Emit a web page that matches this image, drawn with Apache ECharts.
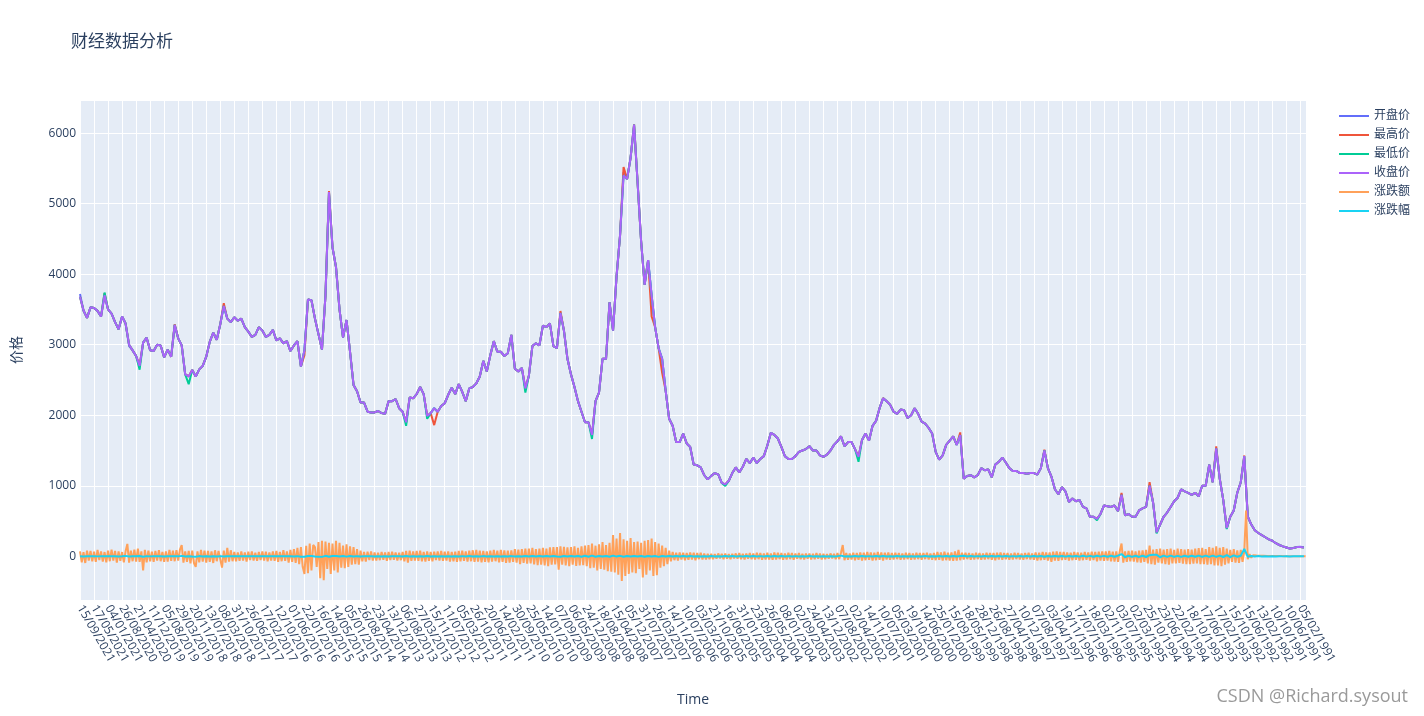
<!DOCTYPE html>
<html><head><meta charset="utf-8">
<script src="https://cdn.jsdelivr.net/npm/echarts@6/dist/echarts.min.js"></script>
<style>html,body{margin:0;padding:0;background:#fff}#c{width:1424px;height:716px}</style>
</head><body><div id="c"></div>
<script>
const tickLabels = ["15/09/2021","17/05/2021","04/01/2021","26/08/2020","21/04/2020","11/12/2019","05/08/2019","29/03/2019","20/11/2018","13/07/2018",
"08/03/2018","31/10/2017","26/06/2017","17/02/2017","12/10/2016","01/06/2016","22/01/2016","16/09/2015","14/05/2015","05/01/2015",
"26/08/2014","23/04/2014","13/12/2013","06/08/2013","27/03/2013","15/11/2012","11/07/2012","05/03/2012","26/10/2011","20/06/2011",
"14/02/2011","30/09/2010","25/05/2010","14/01/2010","07/09/2009","06/05/2009","24/12/2008","18/08/2008","15/04/2008","05/12/2007",
"31/07/2007","26/03/2007","14/11/2006","10/07/2006","03/03/2006","21/10/2005","16/06/2005","31/01/2005","23/09/2004","26/05/2004",
"08/01/2004","02/09/2003","24/04/2003","13/12/2002","07/08/2002","02/04/2002","14/11/2001","10/07/2001","05/03/2001","19/10/2000",
"14/06/2000","25/01/2000","15/09/1999","18/05/1999","28/12/1998","26/08/1998","27/04/1998","10/12/1997","07/08/1997","03/04/1997",
"19/11/1996","17/07/1996","18/03/1996","02/11/1995","03/07/1995","02/03/1995","25/10/1994","23/06/1994","22/02/1994","18/10/1993",
"17/06/1993","17/02/1993","15/10/1992","15/06/1992","13/02/1992","10/10/1991","10/06/1991","05/02/1991"];
const pricePointsPerTick = 4;
const amountPointsPerTick = 8;

const openPrice = [
3720,3485,3380,3530,3520,3480,3400,3690,3500,3440,
3320,3220,3400,3300,2980,2920,2840,2700,3030,3100,
2920,2910,3000,2990,2820,2930,2830,3280,3090,2990,
2580,2550,2640,2550,2650,2700,2830,3040,3170,3070,
3290,3550,3370,3320,3390,3340,3370,3250,3185,3110,
3140,3250,3200,3110,3140,3210,3060,3090,3020,3050,
2910,2990,3050,2690,2920,3640,3630,3370,3150,2930,
3700,5140,4380,4100,3500,3100,3350,2900,2430,2340,
2180,2180,2050,2040,2040,2060,2030,2020,2200,2200,
2230,2100,2050,1900,2250,2240,2300,2400,2300,1990,
2030,2100,2050,2130,2170,2290,2390,2300,2440,2330,
2200,2380,2400,2450,2550,2770,2620,2850,3050,2900,
2900,2840,2880,3140,2660,2620,2670,2380,2560,2980,
3020,2990,3270,3250,3300,2980,2950,3450,3200,2800,
2580,2400,2200,2050,1900,1900,1720,2200,2320,2800,
2800,3600,3200,3970,4550,5450,5350,5650,6100,5300,
4470,3850,4200,3700,3250,2950,2800,2350,1950,1850,
1620,1620,1740,1600,1550,1300,1290,1260,1150,1090,
1140,1180,1160,1040,1020,1070,1180,1260,1190,1270,
1380,1320,1400,1320,1380,1420,1570,1750,1720,1670,
1550,1420,1380,1380,1420,1480,1500,1520,1560,1500,
1500,1430,1410,1440,1500,1580,1630,1700,1560,1620,
1620,1520,1410,1650,1740,1640,1850,1920,2100,2240,
2200,2150,2050,2020,2080,2070,1960,2000,2100,2020,
1910,1880,1820,1740,1480,1370,1430,1580,1640,1700,
1580,1720,1100,1140,1150,1120,1150,1250,1220,1230,
1120,1300,1340,1400,1330,1250,1210,1210,1180,1180,
1170,1180,1180,1160,1250,1500,1250,1130,950,880,
980,920,770,820,780,800,700,680,560,560,
530,600,720,710,700,720,640,880,580,600,
560,560,650,680,700,1000,760,340,450,560,
620,700,780,830,950,920,900,870,900,850,
1000,1000,1300,1050,1520,1100,800,400,560,650,
900,1050,1400,560,450,370,330,300,270,240,
220,185,160,140,125,110,118,130,135,128];

const highPrice = [
3680,3485,3380,3530,3520,3480,3400,3730,3500,3440,
3320,3220,3400,3300,3000,2920,2840,2700,3030,3100,
2920,2910,3000,2990,2820,2930,2830,3290,3090,2990,
2580,2550,2640,2550,2650,2700,2830,3040,3170,3070,
3290,3590,3370,3320,3390,3340,3370,3250,3185,3110,
3140,3250,3200,3110,3140,3210,3060,3090,3020,3050,
2910,2990,3050,2690,2850,3640,3630,3370,3150,2930,
3700,5180,4380,4100,3500,3100,3350,2900,2430,2340,
2180,2180,2050,2040,2040,2060,2030,2020,2200,2200,
2230,2100,2050,1900,2250,2240,2300,2400,2300,1990,
2030,1860,2050,2130,2170,2290,2390,2300,2440,2330,
2200,2380,2400,2450,2550,2770,2620,2850,3050,2900,
2900,2840,2880,3140,2660,2620,2670,2380,2560,2980,
3020,2990,3270,3250,3300,2980,2950,3478,3200,2800,
2580,2400,2200,2050,1900,1900,1720,2200,2320,2800,
2800,3600,3200,3970,4550,5520,5350,5650,6124,5300,
4470,3850,4200,3400,3250,2950,2600,2350,1950,1850,
1620,1620,1740,1600,1550,1300,1290,1260,1150,1090,
1140,1180,1160,1040,1020,1070,1180,1260,1190,1270,
1380,1320,1400,1320,1380,1420,1570,1750,1720,1670,
1550,1420,1380,1380,1420,1480,1500,1520,1560,1500,
1500,1430,1410,1440,1500,1580,1630,1700,1560,1620,
1620,1520,1410,1650,1740,1640,1850,1920,2100,2245,
2200,2150,2050,2020,2080,2070,1960,2000,2100,2020,
1910,1880,1820,1740,1480,1370,1430,1580,1640,1700,
1580,1756,1100,1140,1150,1120,1150,1250,1220,1230,
1120,1300,1340,1400,1330,1250,1210,1210,1180,1180,
1170,1180,1180,1160,1250,1510,1250,1130,950,880,
980,920,770,820,780,800,700,680,560,560,
530,600,720,710,700,720,640,897,580,600,
560,560,650,680,700,1052,760,340,450,560,
620,700,780,830,950,920,900,870,900,850,
1000,1000,1300,1050,1558,1100,800,400,560,650,
900,1050,1429,560,450,370,330,300,270,240,
220,185,160,140,125,110,118,130,132,125];

const lowPrice = [
3680,3485,3380,3530,3520,3480,3400,3740,3500,3440,
3320,3220,3400,3300,3000,2920,2840,2646,3030,3100,
2920,2910,3000,2990,2820,2930,2830,3280,3090,2990,
2580,2440,2640,2550,2650,2700,2830,3040,3170,3070,
3290,3550,3370,3320,3390,3340,3370,3250,3185,3110,
3140,3250,3200,3110,3140,3210,3060,3090,3020,3050,
2910,2990,3050,2690,2920,3640,3630,3370,3150,2930,
3700,5166,4380,4100,3500,3100,3350,2900,2430,2340,
2180,2180,2050,2040,2040,2060,2030,2020,2200,2200,
2230,2100,2050,1849,2250,2240,2300,2400,2300,1949,
2030,2100,2050,2130,2170,2290,2390,2300,2440,2330,
2200,2380,2400,2450,2550,2770,2620,2850,3050,2900,
2900,2840,2880,3140,2660,2620,2670,2320,2560,2980,
3020,2990,3270,3250,3300,2980,2950,3450,3200,2800,
2580,2400,2200,2050,1900,1900,1664,2200,2320,2800,
2800,3600,3200,3970,4550,5400,5350,5650,6120,5300,
4470,3850,4200,3700,3250,2950,2800,2350,1950,1850,
1620,1620,1740,1600,1550,1300,1290,1260,1150,1090,
1140,1180,1160,1040,998,1070,1180,1260,1190,1270,
1380,1320,1400,1320,1380,1420,1570,1750,1720,1670,
1550,1420,1380,1380,1420,1480,1500,1520,1560,1500,
1500,1430,1410,1440,1500,1580,1630,1700,1560,1620,
1620,1520,1339,1650,1740,1640,1850,1920,2100,2240,
2200,2150,2050,2020,2080,2070,1960,2000,2100,2020,
1910,1880,1820,1740,1480,1370,1430,1580,1640,1700,
1580,1720,1100,1140,1150,1120,1150,1250,1220,1230,
1120,1300,1340,1400,1330,1250,1210,1210,1180,1180,
1170,1180,1180,1160,1250,1500,1250,1130,950,880,
980,920,770,820,780,800,700,680,560,560,
512,600,720,710,700,720,640,870,580,600,
560,560,650,680,700,1000,760,325,450,560,
620,700,780,830,950,920,900,870,900,850,
1000,1000,1300,1050,1530,1100,800,386,560,650,
900,1050,1420,560,450,370,330,300,270,240,
220,185,160,140,125,110,118,130,132,125];

const closePrice = [
3680,3485,3380,3530,3520,3480,3400,3700,3500,3440,
3320,3220,3400,3300,3000,2920,2840,2700,3030,3100,
2920,2910,3000,2990,2820,2930,2830,3280,3090,2990,
2580,2550,2640,2550,2650,2700,2830,3040,3170,3070,
3290,3550,3370,3320,3390,3340,3370,3250,3185,3110,
3140,3250,3200,3110,3140,3210,3060,3090,3020,3050,
2910,2990,3050,2690,2920,3640,3630,3370,3150,2930,
3700,5166,4380,4100,3500,3100,3350,2900,2430,2340,
2180,2180,2050,2040,2040,2060,2030,2020,2200,2200,
2230,2100,2050,1900,2250,2240,2300,2400,2300,1990,
2030,2100,2050,2130,2170,2290,2390,2300,2440,2330,
2200,2380,2400,2450,2550,2770,2620,2850,3050,2900,
2900,2840,2880,3140,2660,2620,2670,2380,2560,2980,
3020,2990,3270,3250,3300,2980,2950,3450,3200,2800,
2580,2400,2200,2050,1900,1900,1720,2200,2320,2800,
2800,3600,3200,3970,4550,5400,5350,5650,6120,5300,
4470,3850,4200,3700,3250,2950,2800,2350,1950,1850,
1620,1620,1740,1600,1550,1300,1290,1260,1150,1090,
1140,1180,1160,1040,1020,1070,1180,1260,1190,1270,
1380,1320,1400,1320,1380,1420,1570,1750,1720,1670,
1550,1420,1380,1380,1420,1480,1500,1520,1560,1500,
1500,1430,1410,1440,1500,1580,1630,1700,1560,1620,
1620,1520,1410,1650,1740,1640,1850,1920,2100,2240,
2200,2150,2050,2020,2080,2070,1960,2000,2100,2020,
1910,1880,1820,1740,1480,1370,1430,1580,1640,1700,
1580,1720,1100,1140,1150,1120,1150,1250,1220,1230,
1120,1300,1340,1400,1330,1250,1210,1210,1180,1180,
1170,1180,1180,1160,1250,1500,1250,1130,950,880,
980,920,770,820,780,800,700,680,560,560,
530,600,720,710,700,720,640,870,580,600,
560,560,650,680,700,1000,760,340,450,560,
620,700,780,830,950,920,900,870,900,850,
1000,1000,1300,1050,1530,1100,800,400,560,650,
900,1050,1420,560,450,370,330,300,270,240,
220,185,160,140,125,110,118,130,132,125];

const changeAmount = [
70,-85,60,-95,80,-60,75,-70,
65,-80,90,-55,70,-75,60,-85,
80,-70,95,-60,75,-90,70,-65,
60,-85,70,175,-90,80,-70,95,
-75,110,-80,70,-200,90,-85,80,
-70,65,-80,75,-60,85,-70,60,
-80,70,-75,90,-65,80,-70,85,
-60,95,160,-90,70,-80,75,-100,
80,-95,-150,70,-85,90,-75,80,
-90,75,-80,70,-95,85,-70,75,
100,-160,80,-90,120,-75,85,-70,
60,-70,55,-65,70,-60,55,-75,
65,-55,70,-60,50,-65,60,-55,
70,-60,65,-70,55,-60,70,-65,
75,-80,60,-70,85,-65,70,-90,
90,-80,100,-95,120,-110,130,-150,
-250,150,-240,180,-200,160,130,-150,
200,-310,220,-340,210,-180,190,-250,
180,-200,220,-230,190,-160,150,-170,
170,-150,140,-120,130,-110,100,-120,
80,-70,60,-75,65,-55,70,-60,
55,-60,50,-55,60,-50,55,-65,
60,-55,65,-50,55,-60,50,-55,
60,-70,75,-90,80,-65,70,-60,
75,-65,80,-70,60,-75,70,-65,
60,-70,65,-55,70,-60,75,-65,
65,-60,70,-75,60,-70,65,-80,
75,-70,80,-65,70,-75,80,-70,
85,-80,90,-75,80,-85,75,-80,
70,-85,80,-75,90,-70,80,-85,
90,-80,85,-95,80,-90,85,-80,
100,-90,95,-110,100,-95,110,-105,
110,-100,120,-115,100,-125,110,-120,
120,-130,110,-140,125,-120,130,-115,
130,-190,140,-120,135,-130,125,-140,
130,-120,140,-135,120,-130,140,-125,
150,-140,160,-170,180,-160,150,-200,
170,-180,200,-190,160,-210,190,-220,
300,-230,250,-260,330,-350,240,-280,
220,-250,260,-230,200,-240,210,-180,
190,-300,220,-260,230,-200,250,-280,
200,-270,180,-160,150,-140,120,-110,
80,-70,60,-55,50,-60,55,-45,
50,-55,45,-50,55,-45,50,-55,
45,-40,50,-45,40,-45,35,-40,
35,-40,30,-35,40,-30,35,-40,
40,-35,30,-40,35,-30,40,-35,
45,-40,35,-45,40,-35,45,-40,
40,-45,50,-40,45,-50,40,-45,
50,-45,40,-50,55,-45,50,-40,
45,-50,40,-45,50,-40,45,-50,
40,-35,45,-40,35,-45,40,-35,
40,-45,35,-40,45,-35,40,-45,
35,-40,30,-35,40,-30,35,-40,
45,-40,50,160,-55,45,-50,40,
-45,50,-55,45,-50,55,-60,50,
-55,60,-50,55,-60,50,-55,60,
-50,55,-60,50,-45,55,-50,45,
-45,50,-40,45,-50,40,-45,50,
-40,45,-50,40,-45,50,-40,45,
-50,45,-40,50,-45,40,-50,45,
-55,60,-50,55,-60,65,-55,50,
-60,55,-65,70,-60,90,-55,50,
-45,50,-40,45,-50,40,-45,50,
-40,45,-50,40,-45,50,-40,45,
-50,45,-55,50,-45,55,-50,45,
-40,45,-50,40,-45,50,-40,45,
-45,40,-50,45,-40,50,-45,40,
-50,55,-60,50,-55,60,-50,55,
-60,55,-80,65,-60,70,-65,60,
-55,60,-50,55,-60,50,-55,60,
-50,55,-60,50,-55,60,-50,55,
-60,65,-55,60,-70,65,-60,70,
-65,70,-60,75,-70,65,-75,70,
-80,75,180,-90,70,-80,75,-70,
80,-75,70,-85,80,-90,85,-80,
90,-100,150,-110,95,-120,100,-90,
110,-100,95,-110,100,-120,110,-100,
90,-100,110,-95,100,-105,95,-110,
100,-110,95,-105,110,-100,115,-110,
120,-110,100,-120,130,-110,120,-130,
140,-130,120,-140,130,-120,110,-100,
90,-80,100,-90,85,-95,90,-80,
70,650,-40,30,-20,15,-12,10,
-8,6,-5,6,-4,5,-4,3,
-3,4,-3,3,-2,3,-2,2,
-2,2,-1,2,-1,1,-1,1,
-1,1,-1,1];

const changePct = [
1.0,-1.7,1.3,-0.9,0.7,-1.4,1.8,-1.2,1.1,-0.9,
0.9,-1.7,1.5,5.7,-1.9,1.3,-1.2,3.2,-7.7,1.9,
-1.4,1.0,-0.8,1.5,-1.8,1.2,-1.1,1.7,-1.3,5.6,
-2.7,1.8,-1.9,-5.2,2.3,-1.7,1.8,-2.0,1.3,-1.8,
2.1,-3.6,1.5,-1.2,1.0,-0.9,0.7,-1.1,0.9,-1.3,
1.1,-0.9,0.8,-1.1,1.3,-0.9,1.1,-0.8,1.0,-1.3,
1.5,-1.7,2.0,-6.4,-7.0,2.8,3.3,-4.3,-5.6,-8.5,
6.2,-7.4,4.3,3.7,-3.4,3.2,-5.1,3.8,-2.5,2.1,
-1.6,1.4,-1.2,1.7,-1.5,1.2,-1.5,1.7,-1.8,1.4,
-1.3,1.9,-1.7,2.6,-2.7,1.6,-2.0,2.1,-1.7,2.8,
-1.7,1.9,-1.5,1.6,-2.1,1.7,-2.1,2.0,-1.6,2.1,
-2.5,2.5,-1.9,2.0,-2.7,2.2,-1.9,1.9,-2.0,1.6,
-1.7,2.1,-1.9,2.2,-3.0,1.9,-2.2,2.9,-3.5,2.7,
-2.3,3.0,-3.1,2.5,-2.7,3.4,-4.1,-5.8,3.4,-3.2,
3.9,-3.3,4.1,-5.4,6.3,-6.8,8.7,-6.4,3.4,-4.3,
5.0,-5.6,9.3,-4.5,6.1,-6.5,3.7,-3.9,4.1,-2.8,
4.0,-7.8,4.8,-4.1,3.7,-8.8,3.6,-3.4,3.1,-2.7,
2.5,-2.8,2.9,-2.5,2.3,-2.3,1.9,-2.4,1.7,-2.3,
2.6,-2.1,1.7,-2.9,3.4,-2.3,2.5,-1.6,2.1,-2.4,
2.5,-2.3,2.9,-2.7,2.2,-2.8,2.9,-2.0,2.3,-1.8,
2.3,-2.8,2.2,-1.8,2.1,-2.4,1.7,-2.0,2.2,-1.7,
2.0,-1.7,1.4,-2.1,1.7,-1.9,2.1,9.3,-2.6,1.9,
-2.2,2.6,-3.2,3.0,-2.3,2.1,-2.4,2.6,-1.9,2.5,
-2.0,1.9,-1.7,2.2,-1.9,1.7,-1.5,2.0,-1.7,1.5,
-2.1,2.4,-1.9,1.7,-3.0,2.9,-2.4,2.8,-3.0,3.5,
-3.5,4.1,8.2,-3.5,2.6,-3.1,2.2,-2.4,2.9,-3.3,
4.0,-3.8,3.0,-2.5,2.3,-2.4,2.1,-2.5,3.0,-2.5,
2.6,-3.0,3.4,-3.9,4.0,-5.3,4.8,-4.4,4.7,-4.5,
5.1,-4.9,5.2,-4.3,3.8,-5.0,6.4,-5.1,5.4,-7.1,
6.6,-5.0,5.6,-6.3,7.1,-5.6,9.4,31.0,-13.8,8.3,
-8.0,7.1,-9.2,7.4,-10.0,15.0,20.0,20.6,-13.3,8.9,
-8.9,8.6,-9.0,6.0,-8.4,6.5,-5.6,8.0,-6.7,9.4,
-9.0,10.0,-8.5,8.6,-7.8,10.0,-10.0,15.0,-12.5,12.3,
-6.7,6.7,105.3,-7.1,3.3,-2.7,2.4,-2.0,1.9,-1.7,
1.8,-1.6,1.9,-1.4,1.6,-1.8,1.7,-0.8,0.8,-0.8];

const seriesNames = ['开盘价','最高价','最低价','收盘价','涨跌额','涨跌幅'];
const seriesColors = ['#636efa','#EF553B','#00cc96','#ab63fa','#FFA15A','#19d3f3'];
const seriesValues = [openPrice, highPrice, lowPrice, closePrice, changeAmount, changePct];
const seriesDensity = [pricePointsPerTick, pricePointsPerTick, pricePointsPerTick, pricePointsPerTick, amountPointsPerTick, pricePointsPerTick];

const FONT = '"Open Sans", "Noto Sans CJK SC", sans-serif';
const TXT = '#2a3f5f';

function toPairs(arr, perTick){ return arr.map((v,i)=>[i/perTick, v]); }

const chart = echarts.init(document.getElementById('c'), null, {renderer:'canvas'});
chart.setOption({
  animation:false,
  backgroundColor:'#fff',
  textStyle:{fontFamily:FONT},
  title:{text:'财经数据分析', left:71, top:34, padding:0,
    textStyle:{fontFamily:FONT, fontSize:17, fontWeight:'normal', color:TXT}},
  legend:{orient:'vertical', left:1334, top:105, itemWidth:30, itemHeight:2, itemGap:7,
    icon:'rect', data:seriesNames,
    textStyle:{fontFamily:FONT, fontSize:12, color:TXT}},
  grid:{left:80, right:118, top:100, bottom:116, backgroundColor:'#E5ECF6', show:true, borderWidth:0},
  xAxis:{type:'value', min:0, max:87.4, interval:1,
    name:'Time', nameLocation:'middle', nameGap:93,
    nameTextStyle:{fontFamily:FONT, fontSize:14, color:TXT},
    axisLine:{show:false}, axisTick:{show:false},
    splitLine:{show:true, lineStyle:{color:'#fff', width:1}},
    axisLabel:{rotate:-60, margin:6, fontFamily:FONT, fontSize:12, color:TXT, showMaxLabel:false,
      formatter:function(v){ return Number.isInteger(v) && tickLabels[v] ? tickLabels[v] : ''; }}},
  yAxis:{type:'value', min:-620, max:6470, splitNumber:7,
    name:'价格', nameLocation:'middle', nameGap:56, nameRotate:90,
    nameTextStyle:{fontFamily:FONT, fontSize:14, color:TXT},
    axisLine:{show:false}, axisTick:{show:false},
    splitLine:{show:true, lineStyle:{color:'#fff', width:1}},
    axisLabel:{margin:4, fontFamily:FONT, fontSize:12, color:TXT, showMinLabel:false, showMaxLabel:false,
      formatter:function(v){ return String(v); }}},
  graphic:[{type:'text', right:16, bottom:10, z:100,
    style:{text:'CSDN @Richard.sysout', fontFamily:FONT, fontSize:18, fill:'#9a9a9a'}}],
  series: seriesNames.map((n,k)=>({
    name:n, type:'line', data:toPairs(seriesValues[k], seriesDensity[k]), showSymbol:false, symbol:'none',
    color:seriesColors[k], lineStyle:{width:2, color:seriesColors[k]}, z:2+k
  }))
});
</script>
</body></html>
